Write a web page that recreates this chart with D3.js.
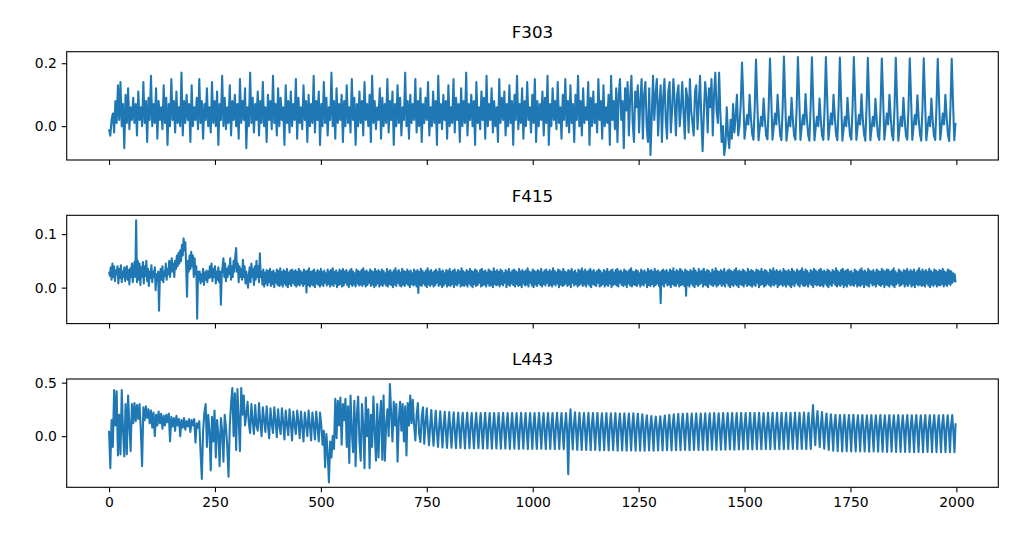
<!DOCTYPE html>
<html><head><meta charset="utf-8">
<script src="https://cdn.jsdelivr.net/npm/d3@7"></script>
<style>body{margin:0;background:#fff}svg{display:block}text{font-family:"DejaVu Sans",sans-serif;fill:#000}</style>
</head><body><svg id="chart" width="1024" height="543"></svg>
<script>
// ---------------- data ----------------
const SAMPLE_COUNT = 2000;
const titles = ["F303", "F415", "L443"];
const xTicks = [0, 250, 500, 750, 1000, 1250, 1500, 1750, 2000];
const f303Ticks = [0.0, 0.2];
const f415Ticks = [0.0, 0.1];
const l443Ticks = [0.0, 0.5];

// F303 sampled every 3 samples
const f303Step = 3;
const f303 = [
-.01,-.03,.02,.04,-.02,.08,.01,.13,.02,.14,.0,.07,-.07,.1,.01,.12,-.01,.06,.02,.09,
.01,.07,-.03,.11,.02,.06,.0,.14,.01,.08,-.05,.09,.02,.16,.0,.07,.01,.12,-.04,.08,
.02,.06,-.01,.13,.01,.09,-.06,.07,.0,.15,.02,.08,-.02,.11,.01,.06,.0,.17,-.03,.08,
.01,.1,.02,.07,-.05,.13,.0,.06,.02,.09,-.01,.15,.01,.08,-.04,.07,.02,.12,.0,.06,
-.02,.14,.01,.08,.0,.11,-.06,.07,.02,.16,.0,.09,-.01,.06,.01,.13,-.03,.08,.02,.1,
.0,.07,-.04,.15,.01,.08,.02,.12,-.07,.06,.0,.17,.01,.09,-.02,.07,.02,.11,-.03,.08,
.01,.14,.0,.06,-.05,.1,.02,.08,-.01,.16,.01,.07,-.03,.12,.0,.09,.02,.06,-.06,.13,
.01,.08,-.02,.11,.0,.07,.02,.15,-.04,.09,.01,.06,-.01,.13,.02,.08,-.05,.1,.0,.07,
.01,.16,-.02,.08,.02,.11,-.06,.07,.0,.14,.01,.09,-.03,.06,.02,.17,.0,.08,-.04,.12,
.01,.07,.02,.1,-.05,.08,.0,.13,.01,.06,-.02,.15,.02,.09,-.06,.07,.0,.11,.01,.08,
-.03,.14,.02,.07,.0,.1,-.05,.16,.01,.08,-.01,.06,.02,.12,-.04,.09,.0,.07,.01,.15,
-.02,.08,.02,.11,-.06,.07,.0,.13,.01,.09,-.03,.06,.02,.17,.0,.08,-.04,.1,.01,.07,
.02,.15,-.02,.08,.0,.12,-.05,.07,.01,.09,.02,.14,-.03,.06,.0,.11,.01,.08,-.06,.16,
.01,.07,-.01,.1,.02,.08,-.04,.13,.0,.06,.01,.15,-.02,.09,.02,.07,-.05,.12,.0,.08,
.01,.17,-.03,.07,.02,.1,.0,.08,-.06,.14,.01,.06,-.01,.11,.02,.09,-.04,.16,.0,.07,
.02,.12,-.02,.08,.0,.06,-.05,.15,.01,.09,.02,.11,-.03,.07,.0,.13,.01,.08,-.06,.1,
.02,.16,-.01,.07,.01,.12,-.04,.08,.0,.14,.02,.06,-.02,.1,.01,.15,-.05,.08,.0,.07,
.02,.11,-.03,.09,.01,.16,-.06,.07,.0,.12,.02,.08,-.01,.14,.01,.06,-.04,.1,.02,.15,
.0,.08,-.02,.13,.01,.07,-.05,.1,.02,.16,.0,.08,-.03,.12,.01,.06,.02,.14,-.06,.09,
.0,.11,.01,.07,-.02,.15,.02,.08,-.04,.13,.0,.06,.01,.1,-.06,.16,.02,.08,-.01,.12,
-.05,.1,.15,.02,.08,-.07,.12,.05,.14,-.03,.09,.16,.01,-.05,.11,.06,.13,-.02,.08,.15,
-.04,.1,.14,.0,-.05,.12,-.092,.03,.16,.02,.1,.15,-.03,.07,.13,-.05,.09,.15,.02,-.04,
.11,.14,-.02,.05,.15,.08,-.03,.1,.13,.0,.06,.14,.04,-.04,.12,.09,-.02,.15,.05,.01,
-.03,.11,.13,-.01,.07,.16,.02,-.08,.04,.14,.09,-.02,.12,.06,.15,-.03,.1,.17,.05,.01,
.17,.04,-.05,.0,-.092,-.06,.06,-.03,-.07,.02,-.04,.07,-.02,.03,.1,-.03,.0,.07,
.202,.09,-.04,.0,.035,.005,.1,.025,-.025,-.043,.06,
.212,.08,-.045,-.005,.03,.0,.088,.02,-.03,-.042,.06,
.215,.09,-.043,.0,.04,.005,.1,.03,-.028,-.045,.06,
.221,.08,-.046,-.005,.03,.0,.09,.02,-.03,-.043,.06,
.22,.09,-.044,.0,.035,.005,.102,.025,-.025,-.046,.06,
.219,.08,-.045,-.005,.03,.0,.088,.02,-.03,-.044,.06,
.22,.09,-.043,.0,.04,.005,.1,.03,-.027,-.045,.06,
.218,.08,-.046,-.005,.03,.0,.09,.02,-.03,-.043,.06,
.22,.09,-.044,.0,.035,.005,.101,.025,-.025,-.046,.06,
.217,.08,-.045,-.005,.03,.0,.087,.02,-.03,-.044,.06,
.215,.09,-.043,.0,.04,.005,.1,.03,-.027,-.045,.06,
.217,.08,-.046,-.005,.03,.0,.09,.02,-.03,-.043,.06,
.216,.09,-.044,.0,.035,.005,.098,.025,-.025,-.046,.06,
.216,.08,-.045,-.005,.03,.0,.088,.02,-.03,-.044,.06,
.214,.09,-.043,.0,.04,.005,.1,.03,-.027,-.047,.06,
.214,.08,-.045,.01
];

// F415 sampled every 2 samples
const f415Step = 2;
const f415 = [
.03,.022,.038,.015,.045,.02,.04,.012,.032,.025,.04,.008,.035,.018,.042,.01,.03,.02,.038,.012,
.028,.04,.015,.033,.006,.036,.02,.045,.01,.03,.048,.02,.126,.01,.05,.015,.045,.005,.038,.02,
.048,.008,.04,.022,.05,.012,.035,.003,.03,.018,.042,.01,.03,.02,.038,-.005,.025,.012,.03,-.043,
.02,.035,.015,.04,.01,.03,.022,.045,.015,.035,.025,.05,.02,.04,.055,.03,.045,.02,.05,.035,
.06,.04,.065,.045,.07,.05,.08,.06,.092,.07,.085,.04,-.017,.05,.03,.06,.035,.067,.04,.06,
.02,.055,.025,.04,-.058,.03,.015,.03,.008,.025,.012,.035,.005,.028,.015,.032,.01,.03,.018,.04,
.02,.045,.012,.035,.02,.04,.008,.03,.015,.038,.01,.03,-.032,.025,.04,.055,.02,.045,.012,.035,
.02,.04,.025,.055,.015,.04,.02,.05,.03,.06,.074,.03,.045,.01,.04,.02,.035,.015,.052,.02,
.04,.008,.03,.015,.0,.025,.038,.01,.045,.02,.035,.005,.04,.015,.05,.02,.04,.01,.064,.02,
.03,.006,.034,.002,.028,.008,.033,.004,.031,.01,.035,.003,.029,.007,.032,.001,.027,.009,.034,.005,
.031,.003,.036,.006,.029,.002,.033,.008,.03,.004,.035,.001,.028,.007,.032,.003,.034,.009,.03,.005,
.033,.002,.029,.006,.035,.004,.031,.008,.028,.003,.034,.007,.03,-.009,.032,.005,.036,.002,.029,.006,
.031,.004,.034,.001,.028,.008,.033,.005,.03,.002,.035,.006,.029,.003,.032,.009,.027,.004,.034,.007,
.03,.002,.033,.006,.036,.003,.029,.008,.032,.001,.028,.005,.034,.007,.031,.002,.035,.004,.03,.009,
.033,.005,.028,.001,.032,.007,.035,.003,.03,.006,.027,.002,.034,.008,.031,.004,.029,.006,.033,.003,
.036,.007,.03,.002,.032,.005,.028,.009,.034,.003,.031,.006,.029,.001,.035,.004,.03,.008,.033,.002,
.029,.006,.034,.003,.031,.008,.027,.004,.035,.002,.03,.007,.033,.005,.028,.001,.032,.006,.036,.003,
.03,.009,.033,.004,.028,.002,.035,.006,.031,.003,.029,.008,.034,.005,.03,.001,.032,.007,.027,.004,
.034,.006,.03,.002,.033,-.01,.029,.005,.035,.003,.031,.008,.028,.004,.032,.001,.036,.006,.03,.003,
.033,.007,.028,.002,.031,.005,.034,.009,.029,.003,.035,.006,.03,.001,.032,.004,.027,.008,.033,.002,
.031,.005,.035,.003,.029,.007,.032,.001,.034,.006,.028,.004,.033,.009,.03,.002,.036,.005,.031,.003,
.028,.006,.033,.002,.03,.008,.035,.004,.031,.001,.029,.007,.034,.003,.032,.005,.027,.009,.033,.002,
.035,.004,.03,.006,.032,.002,.028,.008,.034,.003,.031,.005,.029,.001,.036,.007,.03,.004,.033,.006,
.029,.002,.034,.007,.031,.004,.027,.009,.033,.001,.03,.006,.035,.003,.028,.008,.032,.005,.034,.002,
.031,.007,.028,.003,.035,.005,.03,.001,.033,.008,.029,.004,.032,.006,.036,.002,.03,.009,.028,.004,
.034,.001,.031,.006,.029,.003,.033,.008,.03,.005,.035,.002,.028,.007,.032,.004,.034,.009,.029,.003,
.033,.005,.03,.002,.036,.007,.031,.004,.028,.008,.034,.001,.032,.006,.029,.003,.035,.005,.03,.008,
.028,.003,.033,.006,.031,.001,.035,.009,.029,.004,.032,.007,.027,.002,.034,.005,.031,.008,.036,.003,
.03,.006,.034,.002,.029,.008,.032,.004,.035,.001,.03,.007,.033,.005,.028,.003,.031,.009,.034,.002,
.031,.004,.027,.007,.033,.002,.03,.006,.035,.003,.029,.008,.032,.001,.034,.005,.028,.007,.033,.004,
.035,.002,.03,.009,.032,.005,.028,.003,.034,.006,.031,.001,.029,.008,.033,.004,.036,.002,.03,.006,
.029,.005,.033,.003,.031,.008,.027,.002,.034,.006,.03,.004,.032,.009,.028,.001,.035,.005,.031,.003,
.033,.007,.029,.002,.035,.005,.03,.008,.032,.003,.028,-.029,.031,.006,.034,.002,.03,.009,.033,.004,
.028,.006,.034,.001,.031,.007,.036,.004,.029,.003,.033,.008,.03,.002,.035,.005,.032,.006,.028,.003,
.034,-.015,.031,.005,.029,.002,.033,.008,.03,.004,.036,.001,.032,.007,.028,.003,.035,.006,.03,.009,
.032,.002,.035,.006,.029,.004,.033,.001,.031,.008,.027,.005,.034,.003,.03,.007,.036,.002,.031,.005,
.029,.008,.033,.003,.03,.006,.035,.002,.028,.009,.032,.004,.034,.001,.031,.006,.029,.003,.033,.007,
.036,.004,.03,.001,.032,.007,.029,.005,.034,.002,.031,.008,.028,.003,.035,.006,.03,.004,.033,.002,
.031,.006,.028,.003,.034,.009,.032,.001,.03,.005,.035,.007,.029,.002,.033,.004,.031,.008,.027,.005,
.034,.002,.031,.006,.036,.004,.03,.008,.033,.001,.029,.005,.032,.007,.028,.003,.035,.006,.031,.002,
.03,.007,.033,.004,.029,.001,.035,.006,.031,.003,.028,.009,.034,.005,.03,.002,.032,.008,.036,.004,
.029,.003,.034,.006,.031,.002,.027,.008,.033,.005,.03,.001,.035,.007,.032,.004,.029,.006,.033,.003,
.035,.005,.03,.002,.032,.008,.029,.004,.034,.001,.031,.006,.028,.003,.033,.009,.03,.005,.036,.002,
.031,.006,.028,.003,.033,.007,.035,.001,.03,.005,.032,.002,.034,.008,.029,.004,.031,.006,.027,.003,
.034,.008,.031,.002,.029,.005,.033,.003,.036,.007,.03,.001,.032,.006,.028,.004,.035,.002,.031,.009,
.03,.004,.033,.006,.028,.002,.034,.008,.031,.005,.029,.003,.035,.007,.032,.001,.03,.006,.034,.004,
.033,.002,.029,.007,.032,.004,.036,.001,.03,.006,.027,.009,.034,.003,.031,.005,.028,.008,.033,.002,
.031,.006,.035,.003,.029,.008,.033,.002,.03,.005,.034,.001,.028,.007,.032,.004,.036,.006,.03,.003,
.034,.005,.03,.002,.033,.008,.029,.004,.035,.001,.031,.006,.028,.003,.034,.007,.032,.002,.029,.005,
.033,.004,.031,.007,.035,.002,.03,.006,.028,.003,.034,.008,.032,.005,.03,.009,.027,.012,.025,.01
];

// L443: first part every 3 samples, regular part every 2.65 samples
const l443EarlyStep = 3;
const l443Early = [
.05,-.3,.15,-.1,.43,.1,.42,-.18,.2,-.17,
.43,.05,-.19,.3,-.17,.38,.1,-.14,.3,.12,
.31,.14,.29,.16,.3,.05,-.28,.27,.15,.28,
.17,.25,.12,.24,.08,.22,.0,.2,.1,.23,
.12,.21,.07,.19,.1,.2,.13,.21,-.05,.18,
.09,.17,.05,.19,.1,.16,.0,.15,.08,.17,
.06,.14,.09,.16,.04,.15,.1,.16,-.06,.12,
.08,.14,-.15,-.4,.05,.22,.3,-.1,.2,.05,
-.32,.18,-.05,.24,-.2,.15,.02,-.28,.17,.05,
-.24,.2,.08,-.1,-.38,.1,.3,.45,.0,.4,
-.13,.44,.15,-.14,.45,.2,.38,.1,.2,.32,
.12,.03,.3,.14,.02,.29,.1,.05,.31,.13,
.0,.27,.15,.04,.28,.11,-.02,.26,.12,.03,
.27,.14,-.01,.25,.1,.02,.26,.13,-.03,.24,
.11,.01,.25,.12,-.04,.23,.1,.02,.24,.13,
-.02,.23,.09,-.05,.22,.12,.0,.24,.1,-.04,
.22,.11,-.03,.23,.09,-.05,.22,.1,-.08,.05,
-.29,.02,-.15,-.432,-.05,-.2,.0,-.12,.35,-.02,
.33,.1,.36,-.08,.3,.15,.35,-.1,.28,-.25,
.38,.05,-.15,.33,-.28,.2,.37,-.05,-.23,.3,
.1,-.3,.36,.0,.25,-.3,.2,-.1,.37,.05,
-.23,.3,-.2,.15,.33,-.22,.38,-.23,.1,.25,
.0,.488,.2,-.05,.32,.1,.3,-.24,.15,.32,
.05,.3,-.05,.28,-.18,.31,.1,.38,.12,.34,
.1,-.04,.2,.31,.02,-.055,.18,.27,-.07,.12
];
const l443LateStart = 750;
const l443LateStep = 2.65;
const l443Late = [
.26,.06,-.084,.1, .245,.05,-.09,.1, .238,.04,-.1,.09, .232,.05,-.105,.1, .228,.04,-.11,.09,
.225,.05,-.108,.1, .222,.04,-.112,.09, .22,.05,-.11,.1, .218,.04,-.114,.09, .22,.05,-.112,.1,
.217,.04,-.115,.09, .219,.05,-.113,.1, .216,.04,-.116,.09, .218,.05,-.114,.1, .215,.04,-.117,.09,
.217,.05,-.115,.1, .216,.04,-.118,.09, .218,.05,-.116,.1, .215,.04,-.119,.09, .217,.05,-.117,.1,
.216,.04,-.12,.09, .218,.05,-.118,.1, .215,.04,-.121,.09, .217,.05,-.119,.1, .216,.04,-.12,.09,
.218,.05,-.118,.1, .215,.04,-.121,.09, .217,.05,-.12,.1, .216,.04,-.122,.09, .218,.05,-.12,.1,
.215,.04,-.121,.09, .215,.04,-.356,.1, .25,.06,-.125,.1, .222,.05,-.128,.09, .218,.04,-.13,.1,
.216,.05,-.13,.09, .218,.04,-.132,.1, .215,.05,-.13,.09, .217,.04,-.133,.1, .214,.05,-.131,.09,
.216,.04,-.134,.1, .213,.05,-.132,.09, .215,.04,-.135,.1, .212,.05,-.133,.09, .214,.04,-.136,.1,
.211,.05,-.134,.09, .213,.04,-.137,.1, .21,.05,-.135,.09, .205,.04,-.136,.1, .195,.05,-.134,.09,
.188,.04,-.135,.1, .182,.05,-.133,.09, .185,.04,-.134,.1, .192,.05,-.132,.09, .2,.04,-.133,.1,
.205,.05,-.131,.09, .208,.04,-.132,.1, .21,.05,-.13,.09, .212,.04,-.131,.1, .211,.05,-.129,.09,
.213,.04,-.13,.1, .212,.05,-.128,.09, .214,.04,-.129,.1, .213,.05,-.127,.09, .215,.04,-.128,.1,
.214,.05,-.126,.09, .216,.04,-.127,.1, .215,.05,-.125,.09, .217,.04,-.126,.1, .216,.05,-.124,.09,
.217,.04,-.125,.1, .216,.05,-.123,.09, .218,.04,-.124,.1, .217,.05,-.122,.09, .218,.04,-.123,.1,
.217,.05,-.122,.09, .219,.04,-.123,.1, .218,.05,-.121,.09, .219,.04,-.122,.1, .218,.05,-.121,.09,
.219,.04,-.122,.1, .218,.05,-.12,.09, .22,.04,-.121,.1, .219,.05,-.12,.09, .22,.04,-.121,.1,
.219,.05,-.12,.12, .29,.08,-.085,.12, .235,.06,-.1,.1, .225,.05,-.118,.1, .212,.04,-.128,.09,
.205,.05,-.135,.1, .2,.04,-.14,.09, .198,.05,-.142,.1, .2,.04,-.141,.09, .197,.05,-.143,.1,
.199,.04,-.142,.09, .196,.05,-.144,.1, .198,.04,-.143,.09, .195,.05,-.145,.1, .197,.04,-.144,.09,
.196,.05,-.146,.1, .198,.04,-.145,.09, .195,.05,-.147,.1, .197,.04,-.146,.09, .196,.05,-.148,.1,
.198,.04,-.147,.09, .195,.05,-.148,.1, .197,.04,-.147,.09, .196,.05,-.149,.1, .198,.04,-.148,.09,
.195,.05,-.149,.1, .197,.04,-.148,.09, .196,.05,-.15,.1, .198,.04,-.149,.09, .195,.05,-.15,.1,
.197,.04,-.149,.09, .196,.05,-.15,.1, .198,.04,-.149,.12
];

// ---------------- drawing ----------------
const svg = d3.select("#chart");
const axLeft = 66.7, axRight = 998.3;
const panelTops = [51.7, 215.3, 379.0];
const panelH = 108.3;
const tickLen = 4.9, tickPad = 4.9;
const tickFont = "13.9px", titleFont = "16.7px";
const lineColor = "#1f77b4";

const xMaxData = SAMPLE_COUNT - 1;
const xPad = xMaxData * 0.05;
const x = d3.scaleLinear().domain([-xPad, xMaxData + xPad]).range([axLeft, axRight]);

const series = [
  { title: titles[0], ticks: f303Ticks, pts: f303.map((v, i) => [i * f303Step, v]) },
  { title: titles[1], ticks: f415Ticks, pts: f415.map((v, i) => [i * f415Step, v]) },
  { title: titles[2], ticks: l443Ticks,
    pts: l443Early.map((v, i) => [i * l443EarlyStep, v])
      .concat(l443Late.map((v, j) => [l443LateStart + j * l443LateStep, v])) }
];

series.forEach((s, k) => {
  const top = panelTops[k], bottom = top + panelH;
  const ext = d3.extent(s.pts, d => d[1]);
  const pad = (ext[1] - ext[0]) * 0.05;
  const y = d3.scaleLinear().domain([ext[0] - pad, ext[1] + pad]).range([bottom, top]);

  const g = svg.append("g");
  const clipId = "clip" + k;
  svg.append("clipPath").attr("id", clipId)
    .append("rect").attr("x", axLeft).attr("y", top).attr("width", axRight - axLeft).attr("height", panelH);

  const line = d3.line().x(d => x(d[0])).y(d => y(d[1]));
  g.append("path").datum(s.pts)
    .attr("d", line)
    .attr("fill", "none")
    .attr("stroke", lineColor)
    .attr("stroke-width", 2.08)
    .attr("stroke-linejoin", "round")
    .attr("clip-path", `url(#${clipId})`);

  g.append("rect").attr("x", axLeft).attr("y", top).attr("width", axRight - axLeft).attr("height", panelH)
    .attr("fill", "none").attr("stroke", "#000").attr("stroke-width", 1.1);

  const ya = g.append("g").attr("transform", `translate(${axLeft},0)`)
    .call(d3.axisLeft(y).tickValues(s.ticks).tickSize(tickLen).tickPadding(tickPad).tickFormat(d3.format(".1f")));
  ya.select(".domain").remove();
  ya.selectAll(".tick line").attr("stroke", "#000").attr("stroke-width", 1.1);
  ya.selectAll(".tick text").attr("font-size", tickFont).attr("font-family", "DejaVu Sans");

  const xa = g.append("g").attr("transform", `translate(0,${bottom})`)
    .call(d3.axisBottom(x).tickValues(xTicks).tickSize(tickLen).tickPadding(tickPad)
      .tickFormat(k === series.length - 1 ? d3.format("d") : () => ""));
  xa.select(".domain").remove();
  xa.selectAll(".tick line").attr("stroke", "#000").attr("stroke-width", 1.1);
  xa.selectAll(".tick text").attr("font-size", tickFont).attr("font-family", "DejaVu Sans");

  g.append("text").attr("x", (axLeft + axRight) / 2).attr("y", top - 13.8)
    .attr("text-anchor", "middle").attr("font-size", titleFont).attr("font-family", "DejaVu Sans")
    .text(s.title);
});
</script>
</body></html>
